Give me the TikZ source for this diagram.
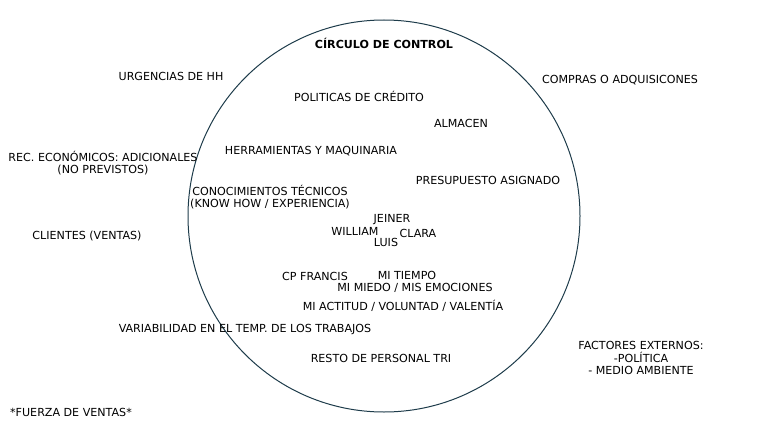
\documentclass[tikz,border=0pt]{standalone}
\usepackage{fontspec}
\setmainfont{DejaVu Sans}
\definecolor{ring}{RGB}{30,60,75}
\begin{document}
\begin{tikzpicture}[x=1pt,y=-1pt,lbl/.style={font=\fontsize{11.1}{12.6}\selectfont,align=center,inner sep=0pt}]
\useasboundingbox (0,0) rectangle (768,433);
\node[draw=ring,line width=1pt,circle,minimum size=392pt,inner sep=0pt] (c) at (384,216) {};
\node[lbl,font=\fontsize{11.1}{12.6}\selectfont\bfseries] (t) at (384,43) {CÍRCULO DE CONTROL};
\node[lbl] (a1) at (171,76) {URGENCIAS DE HH};
\node[lbl] (a2) at (620,80) {COMPRAS O ADQUISICONES};
\node[lbl] (a3) at (359,96) {POLITICAS DE CRÉDITO};
\node[lbl] (a4) at (461,123) {ALMACEN};
\node[lbl] (a5) at (311,151) {HERRAMIENTAS Y MAQUINARIA};
\node[lbl] (a6) at (103,163) {REC. ECONÓMICOS: ADICIONALES\\(NO PREVISTOS)};
\node[lbl] (a7) at (488,180) {PRESUPUESTO ASIGNADO};
\node[lbl] (a8) at (270,197) {CONOCIMIENTOS TÉCNICOS\\(KNOW HOW / EXPERIENCIA)};
\node[lbl] (a9) at (392,220) {JEINER};
\node[lbl] (a10) at (355,231) {WILLIAM};
\node[lbl] (a11) at (418,233) {CLARA};
\node[lbl] (a12) at (386,242) {LUIS};
\node[lbl] (a13) at (87,236) {CLIENTES (VENTAS)};
\node[lbl] (a14) at (315,276) {CP FRANCIS};
\node[lbl] (a15) at (407,275) {MI TIEMPO};
\node[lbl] (a16) at (415,288) {MI MIEDO / MIS EMOCIONES};
\node[lbl] (a17) at (403,306) {MI ACTITUD / VOLUNTAD / VALENTÍA};
\node[lbl] (a18) at (245,329) {VARIABILIDAD EN EL TEMP. DE LOS TRABAJOS};
\node[lbl] (a19) at (381,358) {RESTO DE PERSONAL TRI};
\node[lbl] (a20) at (641,358) {FACTORES EXTERNOS:\\-POLÍTICA\\- MEDIO AMBIENTE};
\node[lbl] (a21) at (71,412) {*FUERZA DE VENTAS*};
\end{tikzpicture}
\end{document}
